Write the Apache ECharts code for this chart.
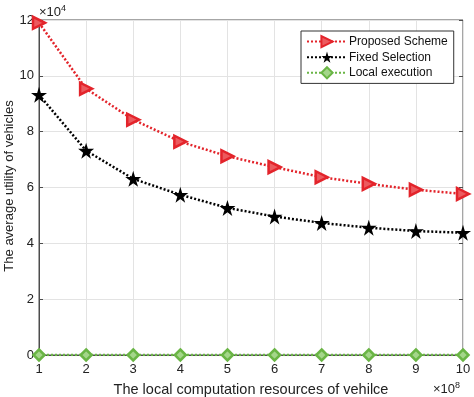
<!DOCTYPE html>
<html>
<head>
<meta charset="utf-8">
<script src="https://cdn.jsdelivr.net/npm/echarts@6/dist/echarts.min.js"></script>
<style>
  html, body { margin: 0; padding: 0; background: #fff; }
  #chart { width: 474px; height: 397px; }
</style>
</head>
<body>
<div id="chart"></div>
<script>
// x in units of 1e8, y in units of 1e4
var xValues = [1, 2, 3, 4, 5, 6, 7, 8, 9, 10];
var proposed = [11.9, 9.54, 8.43, 7.64, 7.12, 6.73, 6.37, 6.13, 5.92, 5.77];
var fixedSel = [9.32, 7.32, 6.31, 5.74, 5.27, 4.96, 4.73, 4.56, 4.44, 4.38];
var localExec = [0, 0, 0, 0, 0, 0, 0, 0, 0, 0];
var seriesNames = ['Proposed Scheme', 'Fixed Selection', 'Local execution'];
var yTitle = 'The average utility of vehicles';

var starPath = 'path://M50,0 L61,35 L98,35 L68,57 L79,91 L50,70 L21,91 L32,57 L2,35 L39,35 Z';
var font = 'Liberation Sans, Arial, Helvetica, sans-serif';

function pairs(ys) {
    return xValues.map(function (x, i) { return [x, ys[i]]; });
}

var myChart = echarts.init(document.getElementById('chart'));
var option = {
    animation: false,
    textStyle: { fontFamily: font },
    grid: {
        left: 39, right: 11, top: 20, bottom: 42,
        outerBoundsMode: 'none',
        containLabel: false,
        show: true,
        borderColor: '#4d4d4d',
        borderWidth: 1
    },
    legend: {
        orient: 'vertical',
        left: 301,
        top: 31,
        width: 150,
        padding: [4, 6, 4, 5],
        itemGap: 3,
        itemWidth: 40,
        itemHeight: 14,
        backgroundColor: '#fff',
        borderColor: '#333',
        borderWidth: 1,
        borderRadius: 0,
        textStyle: { fontSize: 12, color: '#111', fontFamily: font, padding: [0, 0, 0, -3] },
        data: seriesNames
    },
    xAxis: [{
        type: 'value',
        min: 1,
        max: 10,
        interval: 1,
        name: 'The local computation resources of vehilce',
        nameLocation: 'middle',
        nameGap: 27,
        nameTextStyle: { fontSize: 14.5, color: '#222' },
        axisLine: { lineStyle: { color: '#4d4d4d' } },
        axisTick: { inside: true, length: 4, lineStyle: { color: '#4d4d4d' } },
        axisLabel: { fontSize: 13, color: '#222', margin: 8 },
        splitLine: { show: true, lineStyle: { color: '#e3e3e3' } }
    }, {
        type: 'value',
        position: 'top',
        min: 1,
        max: 10,
        interval: 1,
        axisLine: { show: false },
        axisTick: { inside: true, length: 4, lineStyle: { color: '#4d4d4d' } },
        axisLabel: { show: false },
        splitLine: { show: false }
    }],
    yAxis: [{
        type: 'value',
        min: 0,
        max: 12,
        interval: 2,
        axisLine: { show: true, lineStyle: { color: '#4d4d4d' } },
        axisTick: { show: true, inside: true, length: 4, lineStyle: { color: '#4d4d4d' } },
        axisLabel: { fontSize: 13, color: '#222', margin: 5 },
        splitLine: { show: true, lineStyle: { color: '#e3e3e3' } }
    }, {
        type: 'value',
        position: 'right',
        min: 0,
        max: 12,
        interval: 2,
        axisLine: { show: false },
        axisTick: { show: true, inside: true, length: 4, lineStyle: { color: '#4d4d4d' } },
        axisLabel: { show: false },
        splitLine: { show: false }
    }],
    graphic: [{
        type: 'text',
        x: 9,
        y: 186,
        rotation: Math.PI / 2,
        style: {
            text: yTitle,
            fontSize: 13,
            fontFamily: font,
            fill: '#222',
            align: 'center',
            verticalAlign: 'middle'
        }
    }, {
        type: 'text',
        left: 39,
        top: 4,
        style: {
            text: '{a|×10}{b|4}',
            rich: {
                a: { fontSize: 13, fontFamily: font, fill: '#222', verticalAlign: 'bottom' },
                b: { fontSize: 9, fontFamily: font, fill: '#222', verticalAlign: 'top', padding: [0, 0, 6, 0] }
            }
        }
    }, {
        type: 'text',
        left: 433,
        top: 381,
        style: {
            text: '{a|×10}{b|8}',
            rich: {
                a: { fontSize: 13, fontFamily: font, fill: '#222', verticalAlign: 'bottom' },
                b: { fontSize: 9, fontFamily: font, fill: '#222', verticalAlign: 'top', padding: [0, 0, 6, 0] }
            }
        }
    }],
    series: [{
        name: seriesNames[0],
        type: 'line',
        data: pairs(proposed),
        symbol: 'triangle',
        symbolRotate: -90,
        symbolSize: 12,
        showAllSymbol: true,
        lineStyle: { color: '#e3242b', width: 2.5, type: [2, 2] },
        itemStyle: { color: '#ec5a5e', borderColor: '#e3242b', borderWidth: 2.5 },
        z: 3
    }, {
        name: seriesNames[1],
        type: 'line',
        data: pairs(fixedSel),
        symbol: starPath,
        symbolSize: 16,
        showAllSymbol: true,
        lineStyle: { color: '#000', width: 2.5, type: [2, 2] },
        itemStyle: { color: '#000', borderColor: '#000', borderWidth: 0 },
        z: 3
    }, {
        name: seriesNames[2],
        type: 'line',
        data: pairs(localExec),
        symbol: 'diamond',
        symbolSize: 11,
        showAllSymbol: true,
        lineStyle: { color: '#6ab545', width: 2.5, type: [2, 2] },
        itemStyle: { color: '#a4d68a', borderColor: '#6ab545', borderWidth: 2.5 },
        z: 3
    }]
};
myChart.setOption(option, true);
</script>
</body>
</html>
